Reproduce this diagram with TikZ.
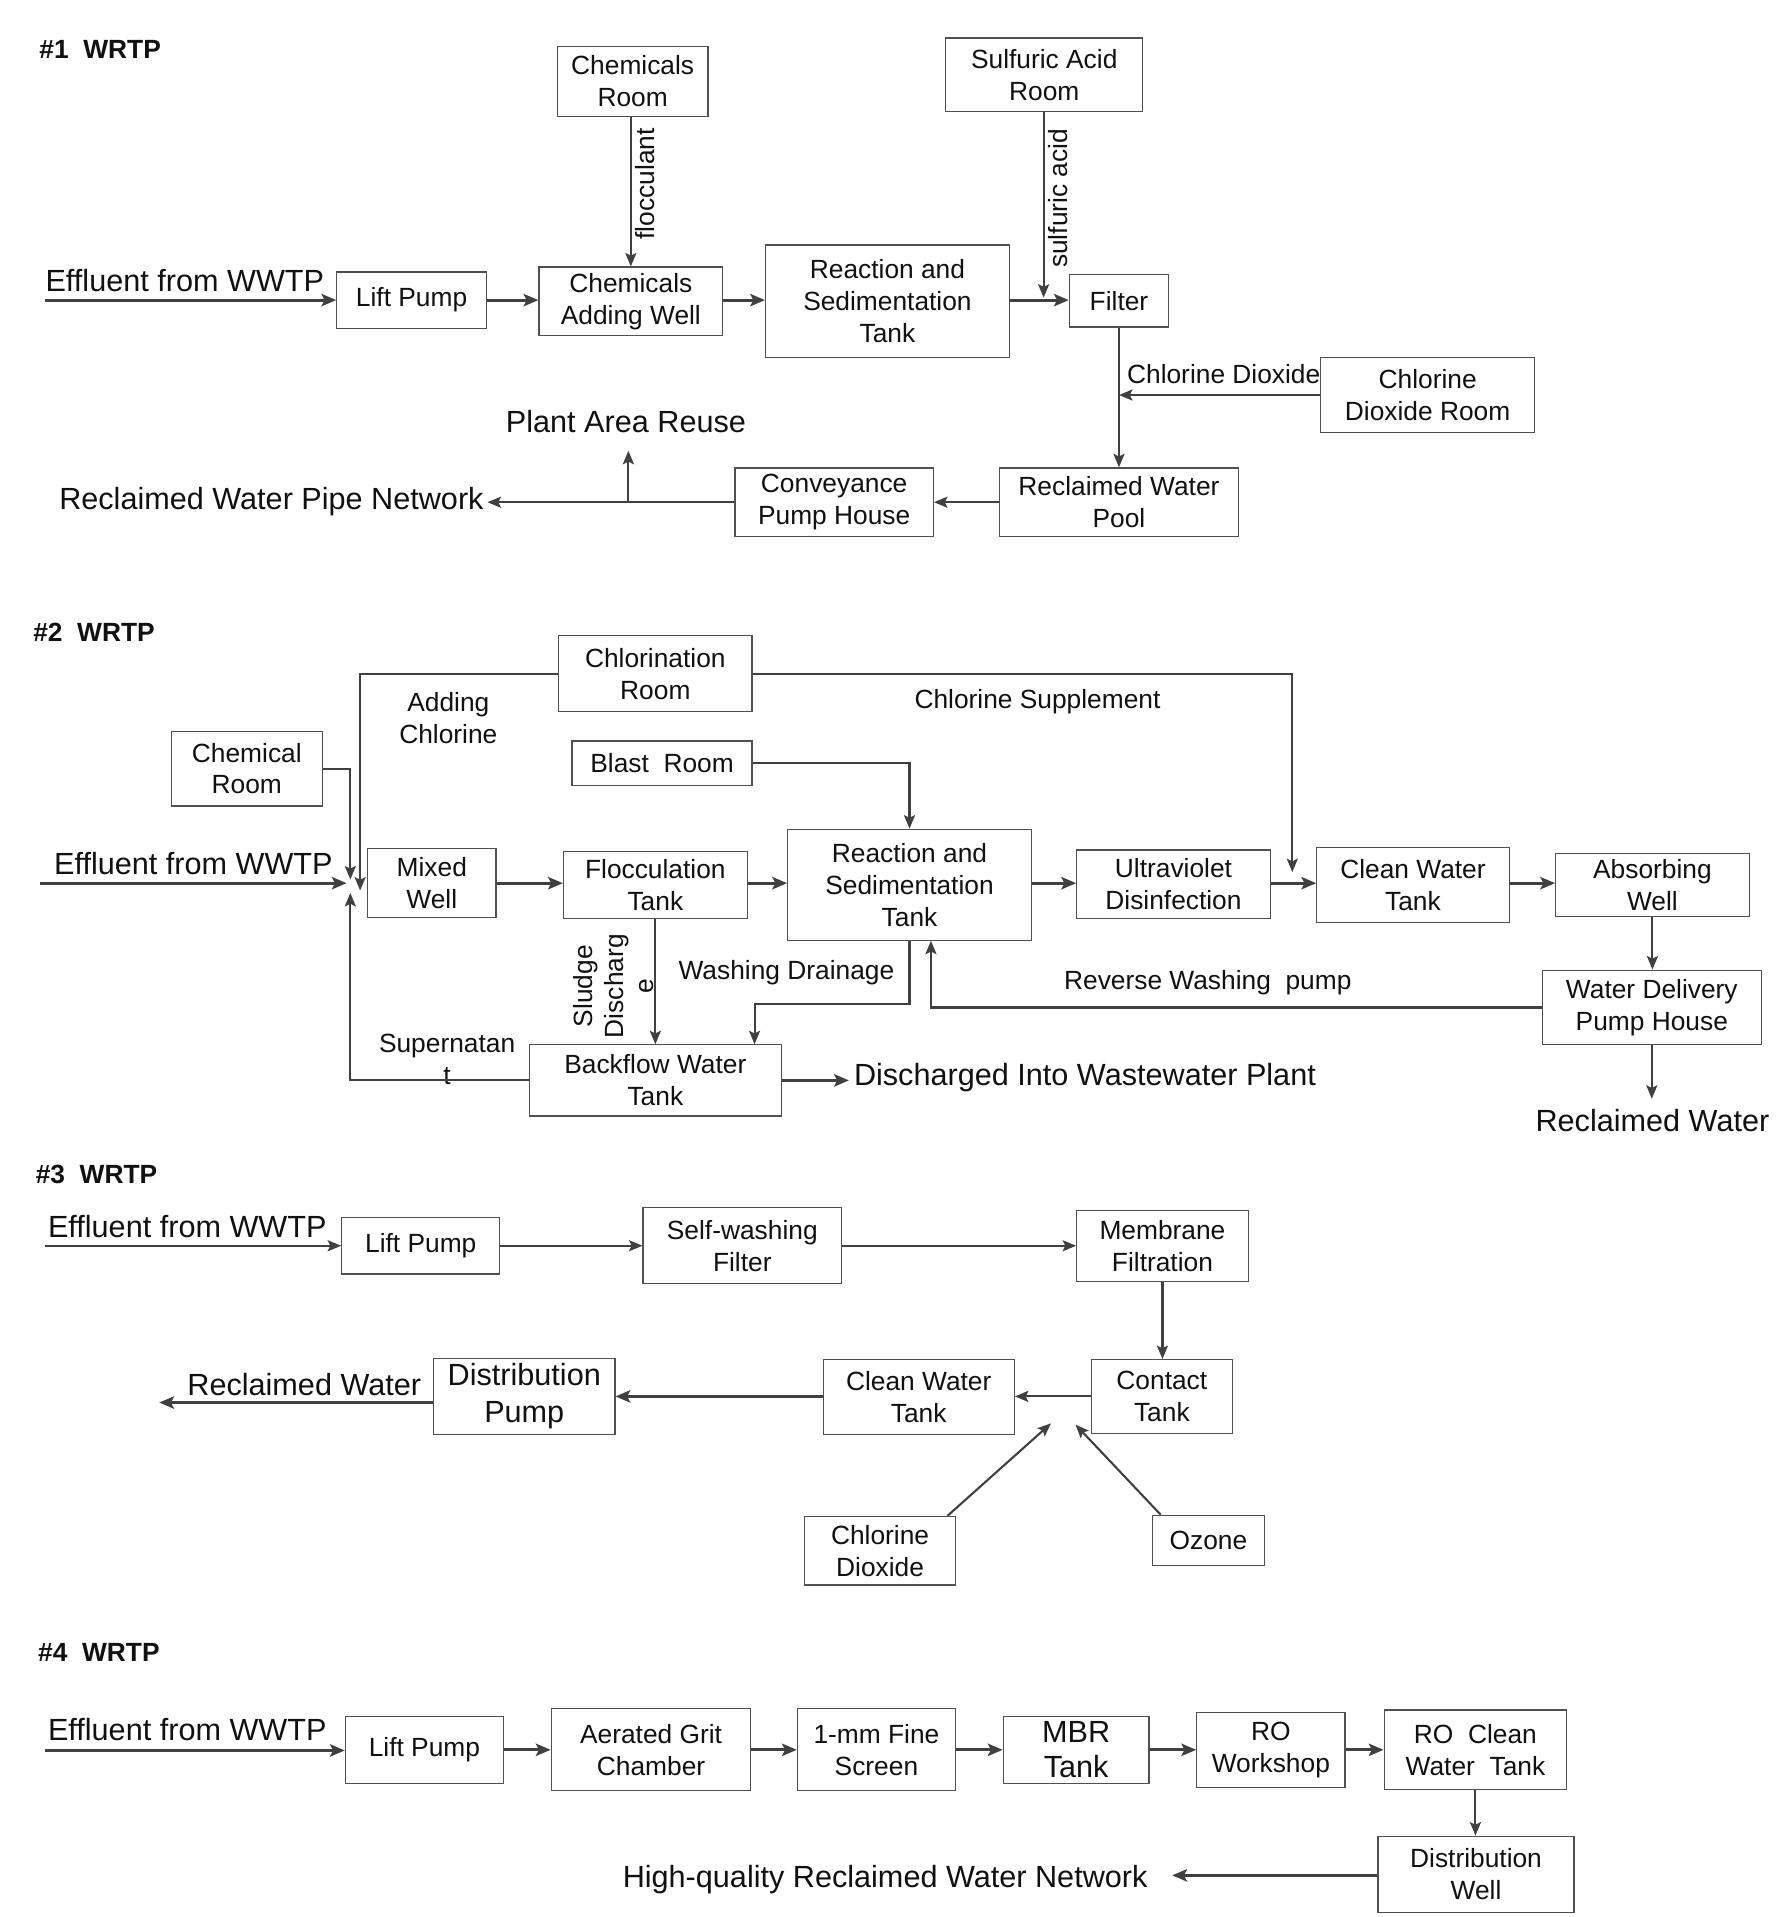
\documentclass[tikz,border=0pt]{standalone}
\usepackage{fontspec}
\setmainfont{Liberation Sans}
\usetikzlibrary{arrows.meta}
\definecolor{linec}{HTML}{404040}
\definecolor{boxc}{HTML}{505050}
\definecolor{txtc}{HTML}{111111}
\newcommand\myboxfont{\fontsize{21.5}{26}\selectfont}
\newcommand\mybigfont{\fontsize{25}{30}\selectfont}
\newcommand\mytitlefont{\fontsize{21.5}{26}\selectfont\bfseries}
\tikzset{
  box/.style={draw=boxc, line width=1pt, align=center, inner sep=0pt, font=\myboxfont, text=txtc},
  lbl/.style={inner sep=0pt, font=\myboxfont, text=txtc},
  biglbl/.style={inner sep=0pt, font=\mybigfont, text=txtc},
  ttl/.style={inner sep=0pt, font=\mytitlefont, text=txtc, anchor=base west},
  flow/.style={draw=linec, line width=2.4pt, -{Stealth[length=12pt,width=10pt,inset=2.5pt]}},
  feed/.style={draw=linec, line width=1.7pt, -{Stealth[length=11pt,width=9pt,inset=2.2pt]}},
}
\begin{document}
\begin{tikzpicture}[x=1pt,y=-1pt]
\fill[white] (0,0) rectangle (1450,1565);
\useasboundingbox (0,0) rectangle (1450,1565);

% ================= #1 WRTP =================
\node[ttl] (t1) at (32,48) {\#1\ \ WRTP};
\node[box, minimum width=123pt, minimum height=57pt] (cr1) at (516.5,66.5) {Chemicals\\Room};
\node[box, minimum width=161pt, minimum height=60pt] (sar) at (852.5,61) {Sulfuric Acid\\Room};
\node[box, minimum width=122pt, minimum height=46pt] (lp1) at (336,245) {Lift Pump};
\node[box, minimum width=150pt, minimum height=56pt] (caw) at (515,246) {Chemicals\\Adding Well};
\node[box, minimum width=199pt, minimum height=92pt] (rst1) at (724.5,246) {Reaction and\\Sedimentation\\Tank};
\node[box, minimum width=81pt, minimum height=43pt] (fil) at (913.5,245.5) {Filter};
\node[box, minimum width=175pt, minimum height=61pt] (cdr) at (1165.5,322.5) {Chlorine\\Dioxide Room};
\node[box, minimum width=195pt, minimum height=56pt] (rwp) at (913.5,410) {Reclaimed Water\\Pool};
\node[box, minimum width=162pt, minimum height=56pt] (cph) at (681,410) {Conveyance\\Pump House};

\node[biglbl, anchor=base west] (eff1) at (37,238) {Effluent from WWTP};
\node[biglbl, anchor=base] (par) at (511,353) {Plant Area Reuse};
\node[biglbl, anchor=base east] (rwpn) at (395,416) {Reclaimed Water Pipe Network};
\node[lbl, anchor=base] (lcd) at (999,313) {Chlorine Dioxide};
\node[lbl, rotate=90] (lfl) at (527,150) {flocculant};
\node[lbl, rotate=90] (lsa) at (864,162) {sulfuric acid};

\coordinate (e1s) at (37,245);
\coordinate (pipe) at (398,410);
\coordinate (br1) at (513,410);
\coordinate (pare) at (513,368);

\draw[flow] (e1s) -- (e1s -| lp1.west);
\draw[flow] (lp1.east) -- (lp1.east -| caw.west);
\draw[flow] (caw.east |- lp1.east) -- (lp1.east -| rst1.west);
\draw[flow] (rst1.east |- lp1.east) -- (lp1.east -| fil.west);
\draw[feed] (cr1.south -| caw.north) -- (caw.north);
\draw[feed] (sar.south -| 852,0) -- (852,243);
\draw[feed] (fil.south) -- (fil.south |- rwp.north);
\draw[feed] (cdr.west) -- (cdr.west -| fil.south);
\draw[feed] (rwp.west) -- (rwp.west -| cph.east);
\draw[feed] (cph.west) -- (pipe);
\draw[feed] (br1) -- (pare);

% ================= #2 WRTP =================
\node[ttl] (t2) at (27,524) {\#2\ \ WRTP};
\node[box, minimum width=158pt, minimum height=62pt] (clr) at (535,550) {Chlorination\\Room};
\node[box, minimum width=123pt, minimum height=61pt] (chr) at (201.5,627.5) {Chemical\\Room};
\node[box, minimum width=147pt, minimum height=36pt] (blr) at (540.5,623) {Blast\ \ Room};
\node[box, minimum width=105pt, minimum height=56pt] (mw) at (352.5,721) {Mixed\\Well};
\node[box, minimum width=150pt, minimum height=55pt] (ft) at (535,722.5) {Flocculation\\Tank};
\node[box, minimum width=199pt, minimum height=91pt] (rst2) at (742.5,722.5) {Reaction and\\Sedimentation\\Tank};
\node[box, minimum width=158pt, minimum height=56pt] (uv) at (958,722) {Ultraviolet\\Disinfection};
\node[box, minimum width=157pt, minimum height=61pt] (cwt2) at (1153.5,722.5) {Clean Water\\Tank};
\node[box, minimum width=158pt, minimum height=51pt] (aw) at (1349,722.5) {Absorbing\\Well};
\node[box, minimum width=179pt, minimum height=61pt] (wdph) at (1348.5,822.5) {Water Delivery\\Pump House};
\node[box, minimum width=206pt, minimum height=58pt] (bwt) at (535,882) {Backflow Water\\Tank};

\node[biglbl, anchor=base west] (eff2) at (44,714) {Effluent from WWTP};
\node[lbl, align=center] (lac) at (366,586) {Adding\\Chlorine};
\node[lbl, anchor=base] (lcs) at (847,578) {Chlorine Supplement};
\node[lbl, anchor=base] (lwd) at (642,800) {Washing Drainage};
\node[lbl, anchor=base] (lrw) at (986,808) {Reverse Washing\ \ pump};
\node[lbl, align=center] (lsn) at (365,865) {Supernatan\\t};
\node[lbl, align=center, rotate=90, font=\fontsize{21.5}{25}\selectfont] (lsd) at (501,805) {Sludge\\Discharg\\e};
\node[biglbl, anchor=base west] (dis) at (697,886) {Discharged Into Wastewater Plant};
\node[biglbl, anchor=base] (rw2) at (1349,924) {Reclaimed Water};

\coordinate (e2s) at (33,721);
\coordinate (m2e) at (283,721);
\coordinate (m2c) at (286,718);
\coordinate (m2l) at (294,727);
\coordinate (m2s) at (286,729);
\coordinate (csend) at (1055,712);
\coordinate (rwend) at (760,768);
\coordinate (wd1) at (616,820);
\coordinate (disin) at (693,882);
\coordinate (rw2in) at (1348.5,897);

\draw[flow] (e2s) -- (m2e);
\draw[feed] (chr.east) -| (m2c);
\draw[feed] (clr.west) -| (m2l);
\draw[feed] (bwt.west) -| (m2s);
\draw[flow] (mw.east) -- (mw.east -| ft.west);
\draw[flow] (ft.east |- mw.east) -- (mw.east -| rst2.west);
\draw[flow] (rst2.east |- mw.east) -- (mw.east -| uv.west);
\draw[flow] (uv.east |- mw.east) -- (mw.east -| cwt2.west);
\draw[flow] (cwt2.east |- mw.east) -- (mw.east -| aw.west);
\draw[feed] (clr.east) -| (csend);
\draw[feed] (blr.east) -| (rst2.north);
\draw[feed] (aw.south) -- (aw.south |- wdph.north);
\draw[feed] (wdph.south) -- (rw2in);
\draw[feed] (wdph.west) -| (rwend);
\draw[feed] (rst2.south) |- (wd1) -- (wd1 |- bwt.north);
\draw[feed] (ft.south) -- (ft.south |- bwt.north);
\draw[flow] (bwt.east) -- (disin);

% ================= #3 WRTP =================
\node[ttl] (t3) at (29,966) {\#3\ \ WRTP};
\node[box, minimum width=129pt, minimum height=46pt] (lp3) at (343.5,1017) {Lift Pump};
\node[box, minimum width=162pt, minimum height=62pt] (swf) at (606,1017) {Self-washing\\Filter};
\node[box, minimum width=140pt, minimum height=58pt] (mf) at (949,1017) {Membrane\\Filtration};
\node[box, minimum width=115pt, minimum height=60pt] (ct) at (948.5,1140) {Contact\\Tank};
\node[box, minimum width=156pt, minimum height=61pt] (cwt3) at (750,1140.5) {Clean Water\\Tank};
\node[box, minimum width=148pt, minimum height=62pt, font=\mybigfont] (dp) at (428,1140) {Distribution\\Pump};
\node[box, minimum width=123pt, minimum height=56pt] (cd3) at (718.5,1266) {Chlorine\\Dioxide};
\node[box, minimum width=91pt, minimum height=41pt] (oz) at (986.5,1257.5) {Ozone};

\node[biglbl, anchor=base west] (eff3) at (39,1010) {Effluent from WWTP};
\node[biglbl, anchor=base east] (rw3) at (344,1139) {Reclaimed Water};

\coordinate (e3s) at (37,1017);
\coordinate (rw3end) at (130,1145);
\coordinate (cdtip) at (858,1162);
\coordinate (oztip) at (878,1163);

\draw[feed] (e3s) -- (e3s -| lp3.west);
\draw[feed] (lp3.east) -- (lp3.east -| swf.west);
\draw[feed] (swf.east |- lp3.east) -- (lp3.east -| mf.west);
\draw[feed] (mf.south) -- (mf.south |- ct.north);
\draw[feed] (ct.west) -- (ct.west -| cwt3.east);
\draw[flow] (cwt3.west |- ct.west) -- (ct.west -| dp.east);
\draw[flow] (dp.west |- rw3end) -- (rw3end);
\draw[feed] ([xshift=-7pt]cd3.north east) -- (cdtip);
\draw[feed] ([xshift=7pt]oz.north west) -- (oztip);

% ================= #4 WRTP =================
\node[ttl] (t4) at (31,1356) {\#4\ \ WRTP};
\node[box, minimum width=129pt, minimum height=55pt] (lp4) at (346.5,1428.5) {Lift Pump};
\node[box, minimum width=163pt, minimum height=67pt] (agc) at (531.5,1428.5) {Aerated Grit\\Chamber};
\node[box, minimum width=129pt, minimum height=67pt] (fs) at (715.5,1428.5) {1-mm Fine\\Screen};
\node[box, minimum width=119pt, minimum height=55pt, font=\fontsize{25}{29}\selectfont] (mbr) at (878.5,1428.5) {MBR\\Tank};
\node[box, minimum width=121pt, minimum height=61pt] (row) at (1037.5,1428.5) {RO\\Workshop};
\node[box, minimum width=149pt, minimum height=65pt] (rocw) at (1204.5,1428.5) {RO\ \ Clean\\Water\ \ Tank};
\node[box, minimum width=160pt, minimum height=62pt] (dw) at (1205,1530) {Distribution\\Well};

\node[biglbl, anchor=base west] (eff4) at (39,1421) {Effluent from WWTP};
\node[biglbl, anchor=base east] (hq) at (937,1541) {High-quality Reclaimed Water Network};

\coordinate (e4s) at (37,1429);
\coordinate (hqend) at (957,1531);

\draw[flow] (e4s) -- (e4s -| lp4.west);
\draw[flow] (lp4.east) -- (lp4.east -| agc.west);
\draw[flow] (agc.east) -- (agc.east -| fs.west);
\draw[flow] (fs.east) -- (fs.east -| mbr.west);
\draw[flow] (mbr.east) -- (mbr.east -| row.west);
\draw[flow] (row.east) -- (row.east -| rocw.west);
\draw[feed] (rocw.south) -- (rocw.south |- dw.north);
\draw[flow] (dw.west |- hqend) -- (hqend);
\end{tikzpicture}
\end{document}
